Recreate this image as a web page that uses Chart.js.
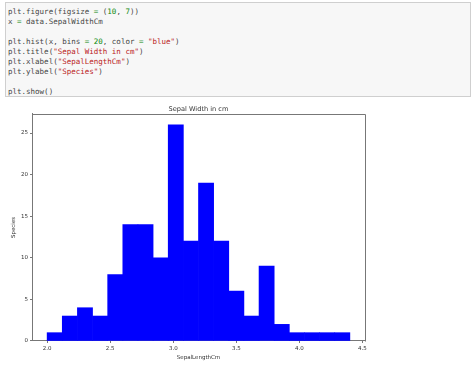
<!DOCTYPE html>
<html>
<head>
<meta charset="utf-8">
<script src="https://cdn.jsdelivr.net/npm/chart.js@4"></script>
<style>
  html, body { margin: 0; padding: 0; background: #fff; width: 474px; height: 365px; overflow: hidden; }
  #cell {
    position: absolute; left: 5px; top: 2px; width: 464px; height: 93px;
    background: #f7f7f7; border: 1px solid #cfcfcf;
  }
  #cell pre {
    margin: 0; position: absolute; left: 2px; top: 4px;
    font-family: "DejaVu Sans Mono", "Liberation Mono", monospace;
    font-size: 7.5px; line-height: 10px; color: #444;
  }
  .o { color: #5aaa5a; }
  .n { color: #0a880a; }
  .s { color: #ba2121; }
  #wrap { position: absolute; left: 0; top: 100px; width: 474px; height: 265px; }
</style>
</head>
<body>
<div id="cell"><pre>plt.figure(figsize <span class="o">=</span> (<span class="n">10</span>, <span class="n">7</span>))
x <span class="o">=</span> data.SepalWidthCm

plt.hist(x, bins <span class="o">=</span> <span class="n">20</span>, color <span class="o">=</span> <span class="s">"blue"</span>)
plt.title(<span class="s">"Sepal Width in cm"</span>)
plt.xlabel(<span class="s">"SepalLengthCm"</span>)
plt.ylabel(<span class="s">"Species"</span>)

plt.show()</pre></div>
<div id="wrap"><canvas id="chart" width="474" height="265"></canvas></div>
<script>
// histogram bins (sepal width, 20 bins)
const binEdges = [2.00, 2.12, 2.24, 2.36, 2.48, 2.60, 2.72, 2.84, 2.96, 3.08, 3.20,
                  3.32, 3.44, 3.56, 3.68, 3.80, 3.92, 4.04, 4.16, 4.28, 4.40];
const counts = [1, 3, 4, 3, 8, 14, 14, 10, 26, 12, 19, 12, 6, 3, 9, 2, 1, 1, 1, 1];

const xTicks = [2.0, 2.5, 3.0, 3.5, 4.0, 4.5];
const yTicks = [0, 5, 10, 15, 20, 25];

const xMin = 1.88, xMax = 4.52;
const yMin = 0, yMax = 27.3;

const axisColor = '#777';
const textColor = '#333';
const tickFont = { family: 'DejaVu Sans', size: 5.5 };

const points = counts.map((c, i) => ({ x: (binEdges[i] + binEdges[i + 1]) / 2, y: c }));

// top / right spines
const frame = {
  id: 'frame',
  afterDraw(chart) {
    const { ctx, chartArea: a } = chart;
    ctx.save();
    ctx.strokeStyle = axisColor;
    ctx.lineWidth = 1;
    ctx.beginPath();
    ctx.moveTo(Math.round(a.left) + 0.5, Math.round(a.top) + 0.5);
    ctx.lineTo(Math.round(a.right) + 0.5, Math.round(a.top) + 0.5);
    ctx.lineTo(Math.round(a.right) + 0.5, Math.round(a.bottom) + 0.5);
    ctx.stroke();
    ctx.restore();
  }
};

new Chart(document.getElementById('chart'), {
  type: 'bar',
  data: {
    datasets: [{
      data: points,
      backgroundColor: '#0000ff',
      borderWidth: 0,
      barPercentage: 1,
      categoryPercentage: 1
    }]
  },
  options: {
    responsive: false,
    animation: false,
    layout: { padding: { left: 0, right: 109, top: 0, bottom: 0 } },
    plugins: {
      legend: { display: false },
      tooltip: { enabled: false },
      title: {
        display: true,
        fullSize: false,
        text: 'Sepal Width in cm',
        color: textColor,
        font: { family: 'DejaVu Sans', size: 6.6, weight: 'normal' },
        padding: { top: 5, bottom: 1 }
      }
    },
    scales: {
      x: {
        type: 'linear',
        offset: false,
        min: xMin,
        max: xMax,
        afterBuildTicks: s => { s.ticks = xTicks.map(v => ({ value: v })); },
        afterFit: s => { s.height = 24; },
        ticks: {
          color: textColor, font: tickFont, padding: 2, maxRotation: 0,
          callback: v => v.toFixed(1)
        },
        grid: { display: true, offset: false, drawOnChartArea: false, drawTicks: true, tickLength: 2, color: axisColor },
        border: { display: true, color: axisColor, width: 1 },
        title: {
          display: true, text: 'SepalLengthCm', color: textColor,
          font: tickFont, padding: { top: 0, bottom: 3.7 }
        }
      },
      y: {
        min: yMin,
        max: yMax,
        afterBuildTicks: s => { s.ticks = yTicks.map(v => ({ value: v })); },
        afterFit: s => { s.width = 32; },
        ticks: { color: textColor, font: tickFont, padding: 2 },
        grid: { display: true, offset: false, drawOnChartArea: false, drawTicks: true, tickLength: 2, color: axisColor },
        border: { display: true, color: axisColor, width: 1 },
        title: {
          display: true, text: 'Species', color: textColor,
          font: tickFont, padding: { top: 10.7, bottom: 0 }
        }
      }
    }
  },
  plugins: [frame]
});
</script>
</body>
</html>
